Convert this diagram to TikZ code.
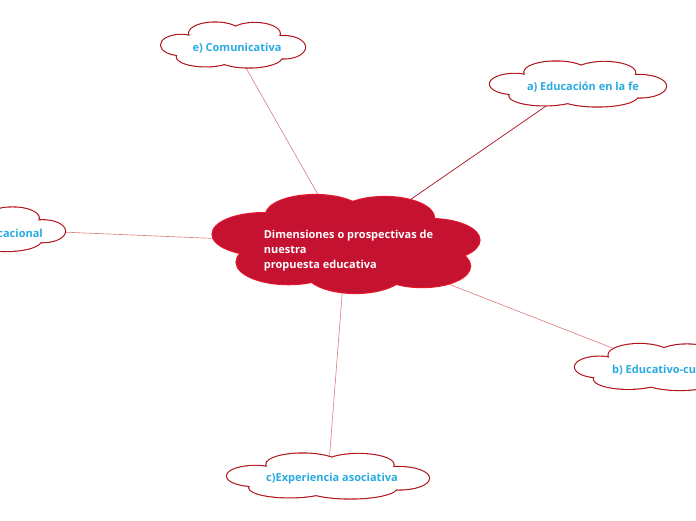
\documentclass[tikz,border=0pt]{standalone}
\usepackage{fontspec}
\setmainfont{Open Sans}
\definecolor{centro}{RGB}{196,18,48}
\definecolor{bordecentro}{RGB}{230,24,44}
\definecolor{bordehoja}{RGB}{178,16,24}
\definecolor{textohoja}{RGB}{41,171,226}
\definecolor{lineaclara}{RGB}{222,122,122}
\definecolor{lineaoscura}{RGB}{170,14,30}
% lobes of a cloud: x/y of centre, x/y radius (unit = half width/height)
\newcommand*{\lobhoja}{-0.72/0/0.28/0.45, -0.25/-0.52/0.36/0.48,
  0.3/-0.5/0.35/0.48, 0.7/0.1/0.3/0.5, -0.38/0.52/0.4/0.43,
  0.22/0.52/0.46/0.48, 0/0/0.55/0.45}
\newcommand*{\lobcentro}{-0.23/-0.59/0.37/0.41, 0.29/-0.53/0.37/0.43,
  -0.62/-0.2/0.38/0.43, 0.63/-0.08/0.37/0.43, -0.43/0.37/0.39/0.45,
  0.07/0.57/0.37/0.43, 0.57/0.45/0.36/0.43, 0/0/0.6/0.5}
% #1 centre, #2 half width, #3 half height, #4 lobes, #5 border, #6 fill
\newcommand*{\nube}[6]{%
  \begin{scope}[shift={#1},xscale=#2,yscale=#3]
  \foreach \cx/\cy/\rx/\ry in #4
    {\draw[#5,line width=2.2pt] (\cx,\cy) ellipse [x radius=\rx,y radius=\ry];}
  \foreach \cx/\cy/\rx/\ry in #4
    {\fill[#6] (\cx,\cy) ellipse [x radius=\rx,y radius=\ry];}
  \end{scope}}
\newcommand*{\hojafont}{\bfseries\fontsize{11}{13}\selectfont}

\begin{document}
\begin{tikzpicture}[x=1pt,y=-1pt,
  hoja/.style={font=\hojafont,text=textohoja,inner sep=0pt},
  rama/.style={lineaclara,line width=.6pt}]
\useasboundingbox (0,0) rectangle (696,520);
% Cloud centres
\coordinate (centro) at (346,244);
\coordinate (e) at (233,45);
\coordinate (a) at (578,84);
\coordinate (d) at (-10,229);
\coordinate (b) at (661,367);
\coordinate (c) at (328,476);
% Branches
\draw[rama] (centro) -- (e);
\draw[lineaoscura,line width=.7pt] (centro) -- (a);
\draw[rama] (centro) -- (d);
\draw[rama] (centro) -- (b);
\draw[rama] (centro) -- (c);
% Clouds
\nube{(centro)}{133.5}{49}{\lobcentro}{bordecentro}{centro}
\nube{(e)}{72}{22.5}{\lobhoja}{bordehoja}{white}
\nube{(a)}{88}{22.5}{\lobhoja}{bordehoja}{white}
\nube{(d)}{75}{22}{\lobhoja}{bordehoja}{white}
\nube{(b)}{86}{23}{\lobhoja}{bordehoja}{white}
\nube{(c)}{101}{22.5}{\lobhoja}{bordehoja}{white}
% Texts
\node [font=\bfseries\fontsize{11}{15}\selectfont,text=white,align=left,
  inner sep=0pt] (centrotxt) at (348.5,251)
  {Dimensiones o prospectivas de\\nuestra\\propuesta educativa};
\node [hoja] (etxt) at (237,48) {e) Comunicativa};
\node [hoja] (atxt) at (583,87) {a) Educación en la fe};
\node [hoja,anchor=east] (dtxt) at (43,233) {cacional};
\node [hoja,anchor=west] (btxt) at (612,370) {b) Educativo-cu};
\node [hoja] (ctxt) at (332,479) {c)Experiencia asociativa};
\end{tikzpicture}
\end{document}
